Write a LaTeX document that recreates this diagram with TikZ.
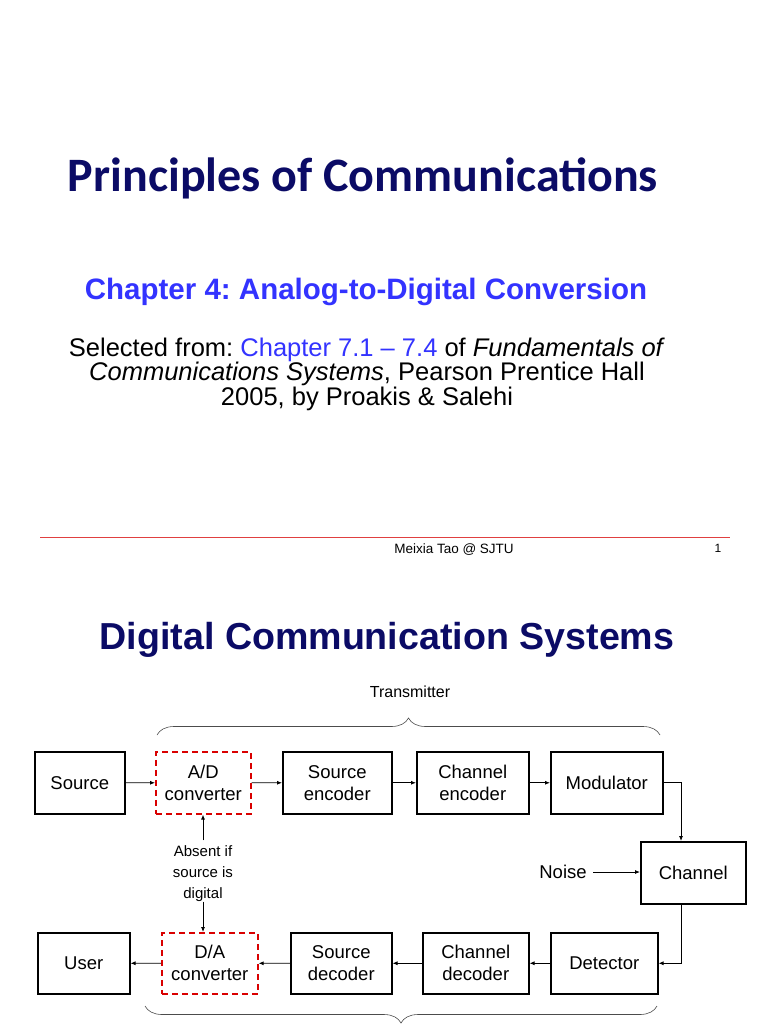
\documentclass[tikz,border=0pt]{standalone}
\usepackage{fontspec}
\setmainfont{Liberation Sans}
\newfontfamily\carl{Carlito}
\usetikzlibrary{decorations.pathreplacing,arrows.meta}
\definecolor{navy}{HTML}{0B0B66}
\definecolor{chblue}{HTML}{3333FF}
\definecolor{redl}{HTML}{E04040}
\frenchspacing
\begin{document}
\begin{tikzpicture}[x=1pt,y=-1pt,
  blk/.style={draw,line width=1.5pt,minimum height=62pt,inner sep=0pt,align=center,font=\fontsize{18.5}{22}\selectfont,anchor=north west},
  dblk/.style={blk,draw=red!85!black,dash pattern=on 6pt off 4pt,line width=1.6pt},
  arr/.style={-{Latex[length=5pt,width=4pt]},line width=0.8pt}]
\useasboundingbox (0,0) rectangle (768,1024);
\fill[white] (0,0) rectangle (768,1024);
\node[text=navy,font=\carl\bfseries\fontsize{48}{52}\selectfont] (t1) at (363,178) {Principles of Communications};
\node[text=chblue,font=\bfseries\fontsize{29.5}{32}\selectfont] (t2) at (366,292) {Chapter 4: Analog-to-Digital Conversion};
\node[align=center,font=\fontsize{25.5}{24.5}\selectfont] (t3) at (367,374) {Selected from: \textcolor{chblue}{Chapter 7.1 -- 7.4} of \textit{Fundamentals of}\\ \textit{Communications Systems}, Pearson Prentice Hall\\ 2005, by Proakis \& Salehi};
\coordinate (l1) at (40,537); \coordinate (l2) at (730,537);
\draw[redl,line width=0.8pt] (l1) -- (l2);
\node[font=\fontsize{13.5}{15}\selectfont] (ft) at (454,550) {Meixia Tao @ SJTU};
\node[font=\fontsize{12}{13}\selectfont] (pg) at (718,548) {1};
\node[text=navy,font=\bfseries\fontsize{37.6}{42}\selectfont] (t4) at (387,640) {Digital Communication Systems};
% top row
\node[blk,minimum width=90pt] (src) at (34,751) {Source};
\node[dblk,minimum width=95pt] (ad) at (155,751) {A/D\\converter};
\node[blk,minimum width=109pt] (se) at (282,751) {Source\\encoder};
\node[blk,minimum width=112pt] (ce) at (416,751) {Channel\\encoder};
\node[blk,minimum width=112pt] (mod) at (550,751) {Modulator};
\node[blk,minimum width=105pt] (ch) at (640,841) {Channel};
\node[font=\fontsize{18.5}{22}\selectfont] (noise) at (563,872) {Noise};
% bottom row
\node[blk,minimum width=92pt,minimum height=61pt] (user) at (37,932) {User};
\node[dblk,minimum width=96pt,minimum height=61pt] (da) at (161,932) {D/A\\converter};
\node[blk,minimum width=101pt,minimum height=61pt] (sd) at (290,932) {Source\\decoder};
\node[blk,minimum width=106pt,minimum height=61pt] (cd) at (422,932) {Channel\\decoder};
\node[blk,minimum width=107pt,minimum height=61pt] (det) at (550,932) {Detector};
\node[align=center,font=\fontsize{15}{21}\selectfont] (abs) at (203,874) {Absent if\\source is\\digital};
\draw[arr] (src) -- (ad);
\draw[arr] (ad) -- (se);
\draw[arr] (se) -- (ce);
\draw[arr] (ce) -- (mod);
\draw[arr] (mod.east) -| (ch.north -| 681,0);
\draw[arr] (noise.east) ++(3,0) -- (ch.west |- noise.east);
\draw[arr] (ch.south -| 681,0) |- (det.east);
\draw[arr] (det) -- (cd);
\draw[arr] (cd) -- (sd);
\draw[arr] (sd) -- (da);
\draw[arr] (da) -- (user);
\draw[arr] (abs.north -| 203,0) ++(0,-2) -- (ad.south -| 203,0);
\draw[arr] (abs.south -| 203,0) ++(0,-4) -- (da.north -| 203,0);
% braces
\coordinate (b1) at (157,735); \coordinate (b2) at (660,735);
\draw[decorate,decoration={brace,amplitude=17pt},line width=0.6pt,gray!60!black] (b1) -- (b2);
\node[font=\fontsize{16}{19}\selectfont] (tx) at (410,692) {Transmitter};
\coordinate (b3) at (657,1006); \coordinate (b4) at (145,1006);
\draw[decorate,decoration={brace,amplitude=17pt},line width=0.6pt,gray!60!black] (b3) -- (b4);
\end{tikzpicture}
\end{document}
